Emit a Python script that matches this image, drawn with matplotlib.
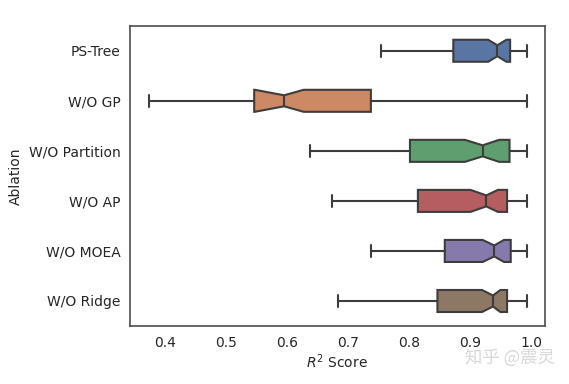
import matplotlib
matplotlib.use("Agg")
import matplotlib.pyplot as plt
import seaborn as sns

sns.set_style("white")
plt.rcParams['font.family'] = ['DejaVu Sans', 'Noto Sans CJK SC']

categories = ["PS-Tree", "W/O GP", "W/O Partition", "W/O AP", "W/O MOEA", "W/O Ridge"]
whislo = [0.753, 0.374, 0.637, 0.673, 0.737, 0.684]
q1     = [0.872, 0.546, 0.801, 0.814, 0.858, 0.846]
cilo   = [0.929, 0.547, 0.891, 0.900, 0.920, 0.919]
med    = [0.944, 0.595, 0.920, 0.926, 0.939, 0.937]
cihi   = [0.959, 0.627, 0.947, 0.945, 0.955, 0.949]
q3     = [0.965, 0.737, 0.964, 0.960, 0.966, 0.960]
whishi = [0.992, 0.992, 0.992, 0.992, 0.992, 0.992]

colors = [sns.desaturate(c, 0.75) for c in sns.color_palette("deep")[:6]]
linecol = "#3d3d3d"

fig = plt.figure(figsize=(5.69, 3.84), dpi=100)
ax = fig.add_axes([0.2285, 0.151, 0.729, 0.782])

stats = []
for i, name in enumerate(categories):
    stats.append(dict(label=name, whislo=whislo[i], q1=q1[i], med=med[i], q3=q3[i],
                      whishi=whishi[i], cilo=cilo[i], cihi=cihi[i], fliers=[]))

positions = list(range(len(categories)))
bp = ax.bxp(stats, positions=positions, vert=False, widths=0.44, shownotches=True,
            patch_artist=True, showfliers=False,
            boxprops=dict(edgecolor=linecol, linewidth=1.5),
            whiskerprops=dict(color=linecol, linewidth=1.5),
            capprops=dict(color=linecol, linewidth=1.5),
            medianprops=dict(color=linecol, linewidth=1.5))
for patch, c in zip(bp['boxes'], colors):
    patch.set_facecolor(c)
for cap in bp['caps']:
    ym = sum(cap.get_ydata()) / 2
    cap.set_ydata([ym - 0.12, ym + 0.12])

ax.set_ylim(len(categories) - 0.5, -0.5)
ax.set_xlim(0.3427, 1.0218)
ax.set_yticks(positions)
ax.set_yticklabels(categories)
ax.set_xticks([0.4, 0.5, 0.6, 0.7, 0.8, 0.9, 1.0])
ax.set_xticklabels(["0.4", "0.5", "0.6", "0.7", "0.8", "0.9", "1.0"])
ax.tick_params(labelsize=10, colors="#262626")
ax.set_xlabel("$R^2$ Score", fontsize=10, color="#262626", labelpad=2)
ax.set_ylabel("Ablation", fontsize=10, color="#262626")
for s in ax.spines.values():
    s.set_color("#4d4d4d")
    s.set_linewidth(1.2)

fig.text(0.975, 0.068, "知乎 @震灵", ha="right", va="center", fontsize=12.5,
         color="#d8d8d8", family=['Noto Sans CJK SC', 'DejaVu Sans'])

fig.savefig("out.png", dpi=100)
